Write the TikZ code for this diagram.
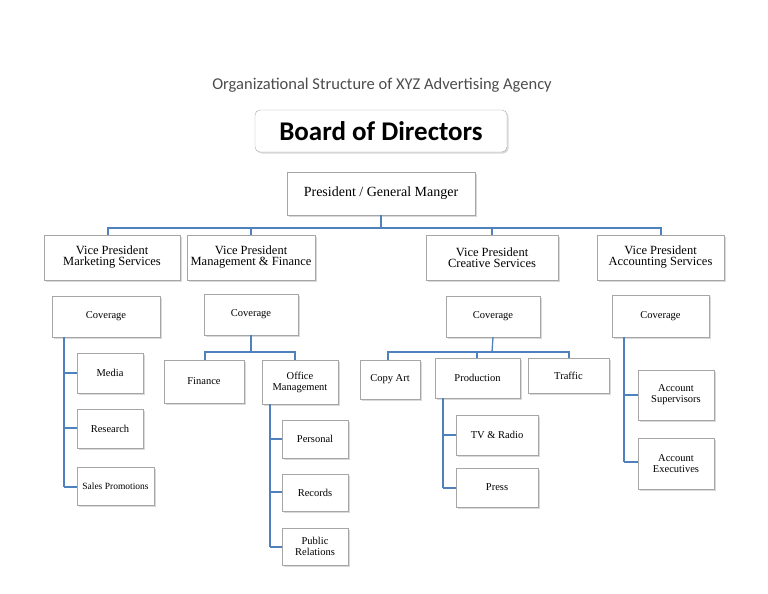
\documentclass[tikz,border=0pt]{standalone}
\usepackage{fontspec}
\setmainfont{Liberation Serif}
\newfontfamily\calib{Carlito}
\usetikzlibrary{shadows}
\begin{document}
\begin{tikzpicture}[x=1pt,y=-1pt,
 bx/.style={draw=gray!70,fill=white,drop shadow={shadow xshift=1.5pt,shadow yshift=-1.5pt,opacity=0.3},align=center,font=\fontsize{10.5}{11}\selectfont,inner sep=1pt}]
\useasboundingbox (0,0) rectangle (768,594);
\tikzset{ln/.style={draw={rgb,255:red,79;green,129;blue,189},line width=1.3pt}}
\newcommand\bx[6]{\node[bx,minimum width=#4-#2,minimum height=#5-#3] (#1) at ({(#2+#4)/2},{(#3+#5)/2}) {#6};}
\newcommand\vp{\fontsize{12.5}{19}\selectfont}
\node[font=\calib\fontsize{16.5}{18}\selectfont,text=black!70] (title) at (382,85) {Organizational Structure of XYZ Advertising Agency};
\node[bx,rounded corners=5pt,minimum width=252,minimum height=42,font=\calib\bfseries\fontsize{27}{29}\selectfont] (bod) at (381,131) {Board of Directors};
\bx{pres}{287}{172}{475}{215}{\fontsize{14}{16}\selectfont President / General Manger}
\coordinate (h) at (381,228);
\draw[ln] (pres.south) -- (h);
\draw[ln] (108,235) |- (661,228) -- (661,235);
\draw[ln] (251,228) -- (251,235);
\draw[ln] (492,228) -- (492,235);
\bx{vpm}{44}{235}{180}{280}{\vp Vice President\\ \vp Marketing Services}
\bx{vpf}{187}{235}{315}{280}{\vp Vice President\\ \vp Management \& Finance}
\bx{vpc}{426}{235}{558}{280}{\vp Vice President\\ \vp Creative Services}
\bx{vpa}{597}{235}{724}{280}{\vp Vice President\\ \vp Accounting Services}
\bx{cm}{52}{296}{160}{337}{Coverage}
\bx{cf}{204}{294}{298}{335}{Coverage}
\bx{cc}{446}{296}{540}{337}{Coverage}
\bx{ca}{612}{295}{709}{337}{Coverage}
\draw[ln] (64,337) -- (64,487);
\draw[ln] (64,373) -- (77,373); \draw[ln] (64,428) -- (77,428); \draw[ln] (64,487) -- (77,487);
\bx{media}{77}{353}{143}{393}{Media}
\bx{res}{77}{409}{143}{448}{Research}
\bx{sales}{77}{467}{154}{505}{\fontsize{9.5}{11}\selectfont Sales Promotions}
\draw[ln] (cf.south) -- (251,352);
\draw[ln] (205,360) |- (295,352) -- (295,360);
\bx{fin}{164}{360}{244}{403}{Finance}
\bx{off}{262}{360}{338}{404}{Office\\Management}
\draw[ln] (270,404) -- (270,547);
\draw[ln] (270,439) -- (282,439); \draw[ln] (270,492) -- (282,492); \draw[ln] (270,547) -- (282,547);
\bx{pers}{282}{420}{348}{458}{Personal}
\bx{rec}{282}{474}{348}{511}{Records}
\bx{pr}{282}{528}{348}{565}{Public\\Relations}
\draw[ln] (cc.south) -- (492,352);
\draw[ln] (388,360) |- (569,352) -- (569,358);
\draw[ln] (477,352) -- (477,358);
\bx{copy}{360}{360}{420}{399}{Copy Art}
\bx{prod}{435}{358}{520}{398}{Production}
\bx{traf}{528}{358}{609}{393}{Traffic}
\draw[ln] (443,398) -- (443,488);
\draw[ln] (443,435) -- (456,435); \draw[ln] (443,488) -- (456,488);
\bx{tv}{456}{415}{538}{455}{TV \& Radio}
\bx{press}{456}{468}{538}{507}{Press}
\draw[ln] (624,337) -- (624,462);
\draw[ln] (624,395) -- (638,395); \draw[ln] (624,462) -- (638,462);
\bx{asup}{638}{370}{714}{420}{Account\\Supervisors}
\bx{aex}{638}{438}{714}{489}{Account\\Executives}
\end{tikzpicture}
\end{document}
